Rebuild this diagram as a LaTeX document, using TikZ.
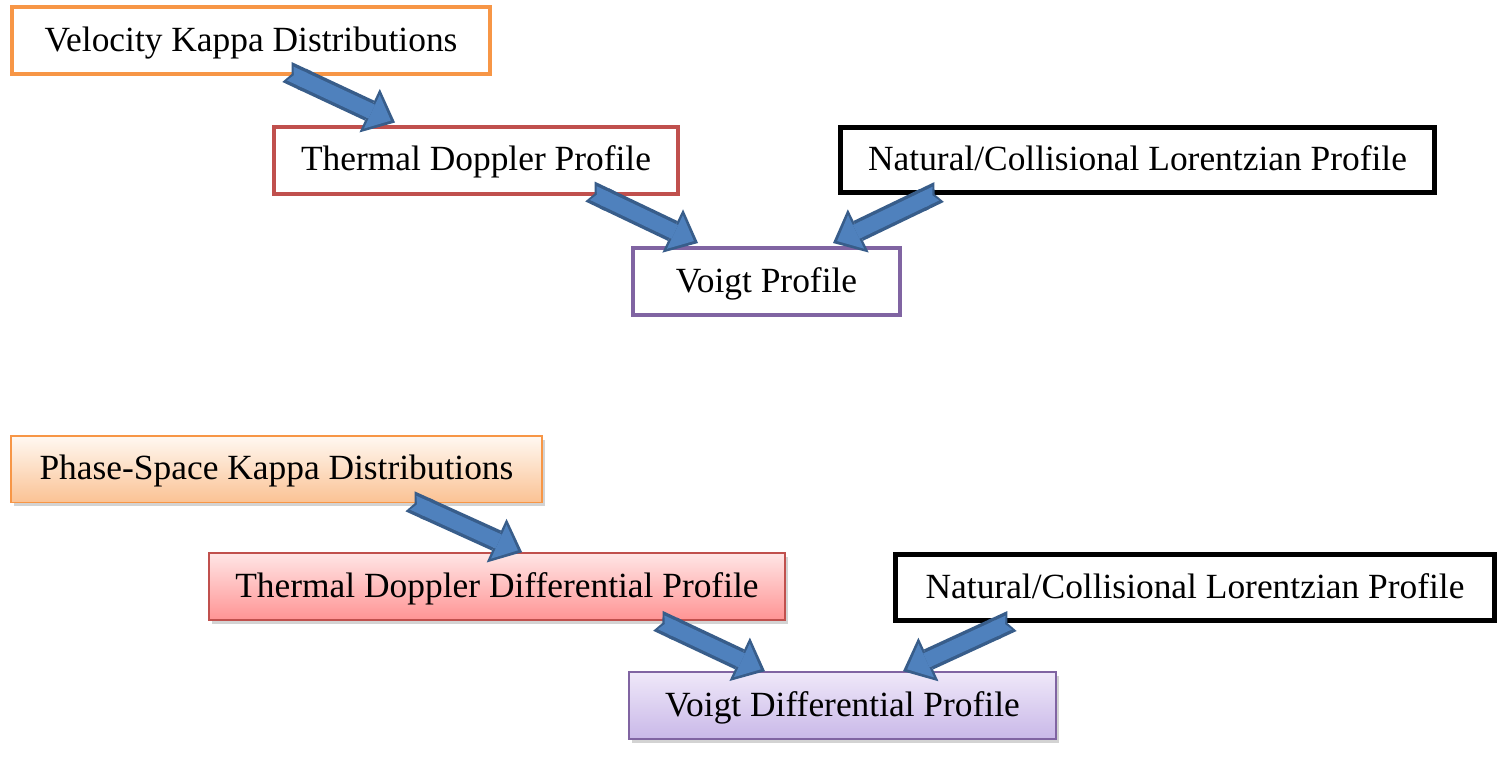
\documentclass[tikz,border=0pt]{standalone}
\usepackage{fontspec}
\setmainfont{Liberation Serif}
\usetikzlibrary{arrows.meta}
\usetikzlibrary{calc}
\usetikzlibrary{shadows}

\definecolor{kapOrange}{HTML}{F79646}
\definecolor{kapRed}{HTML}{C0504D}
\definecolor{kapPurple}{HTML}{8064A2}
\definecolor{lilacTop}{HTML}{EFE8F9}
\definecolor{lilacBottom}{HTML}{C9B8E8}
\definecolor{arrowFill}{HTML}{4F81BD}
\definecolor{arrowEdge}{HTML}{385D8A}

\tikzset{
  box/.style={draw, line width=2pt, fill=white, inner sep=0pt, minimum height=33.5pt, text height=12.7pt, text depth=2.1pt, font=\fontsize{17.7}{20}\selectfont},
  shadebox/.style={draw, line width=0.9pt, inner sep=0pt, minimum height=33.4pt, text height=12.7pt, text depth=2.1pt, font=\fontsize{17.7}{20}\selectfont,
    drop shadow={shadow xshift=1.5pt, shadow yshift=-2pt, opacity=0.35}},
  arrowrim/.style={draw=arrowEdge, line width=11pt, {Triangle Cap[reversed, length=2.5pt]}-{Triangle[length=14pt, width=24pt, line width=0pt]}},
  arrowcore/.style={draw=arrowFill, line width=7.6pt, shorten <=1.8pt, shorten >=2.3pt, {Triangle Cap[reversed, length=2pt]}-{Triangle[length=10.5pt, width=18.6pt, line width=0pt]}}
}
\newcommand{\blockarrow}[2]{%
  \draw[arrowrim] #1 -- #2;
  \draw[arrowcore] #1 -- #2;}

\begin{document}
\begin{tikzpicture}[x=0.5pt, y=-0.5pt]
\useasboundingbox (0,0) rectangle (1500,757);

% velocity kappa chain
\node[box, draw=kapOrange, minimum width=239pt] (vk) at (251,40.5) {Velocity Kappa Distributions};
\node[box, draw=kapRed, minimum width=202pt] (td) at (476,160) {Thermal Doppler Profile};
\node[box, draw=black, line width=2.4pt, minimum width=297pt, minimum height=32.6pt] (nl1) at (1137.5,160) {Natural/Collisional Lorentzian Profile};
\node[box, draw=kapPurple, minimum width=133.5pt] (vp) at (766.5,281.5) {Voigt Profile};

\blockarrow{($(vk.south east)+(-205,-4)$)}{($(td.north west)+(123,-2)$)}
\blockarrow{($(td.south east)+(-90,-4)$)}{($(vp.north west)+(67,-3)$)}
\blockarrow{($(nl1.south west)+(101,-3)$)}{($(vp.north east)+(-69,-3)$)}

% phase-space kappa chain
\node[shadebox, draw=kapOrange, top color=orange!5!white, bottom color=kapOrange!58!white, minimum width=265.6pt] (ps) at (276.5,469) {Phase-Space Kappa Distributions};
\node[shadebox, draw=kapRed, top color=red!10!white, bottom color=red!42!white, minimum width=288pt] (tdd) at (497,586.5) {Thermal Doppler Differential Profile};
\node[box, draw=black, line width=2.4pt, minimum width=299.6pt, minimum height=33.1pt] (nl2) at (1195,587.5) {Natural/Collisional Lorentzian Profile};
\node[shadebox, draw=kapPurple, top color=lilacTop, bottom color=lilacBottom, minimum width=213.6pt] (vdp) at (842.5,705.5) {Voigt Differential Profile};

\blockarrow{($(ps.south east)+(-133,-2)$)}{($(tdd.north west)+(314,0)$)}
\blockarrow{($(tdd.south east)+(-128,0)$)}{($(vdp.north west)+(137,0)$)}
\blockarrow{($(nl2.south west)+(119,-2)$)}{($(vdp.north east)+(-154,0)$)}

\end{tikzpicture}
\end{document}
